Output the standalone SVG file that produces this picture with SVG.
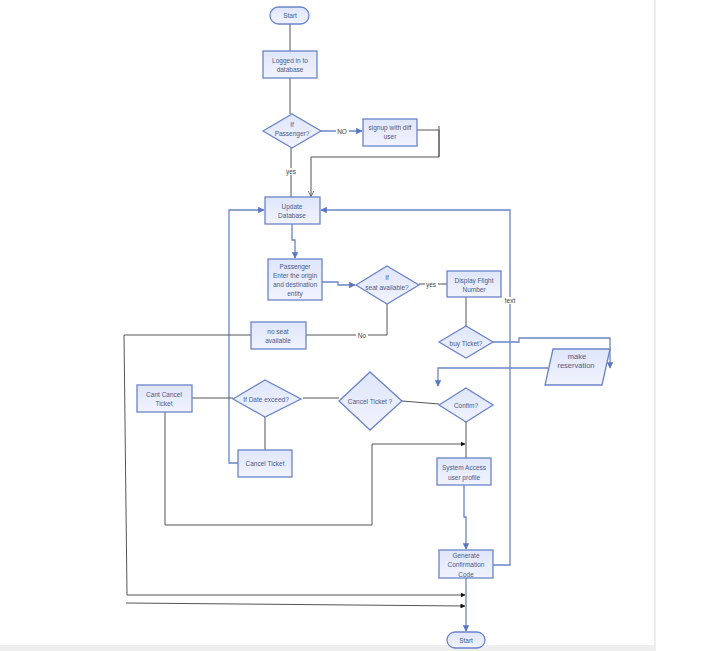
<svg xmlns="http://www.w3.org/2000/svg" width="704" height="651" viewBox="0 0 704 651">
<defs>
<linearGradient id="g" x1="0" y1="0" x2="0" y2="1"><stop offset="0" stop-color="#dfe6fb"/><stop offset="1" stop-color="#f1f3fd"/></linearGradient>
<marker id="ab" viewBox="0 0 10 10" refX="9" refY="5" markerWidth="5" markerHeight="5" orient="auto"><path d="M0,0L10,5L0,10z" fill="#5b77c4"/></marker>
<marker id="ak" viewBox="0 0 10 10" refX="9" refY="5" markerWidth="5" markerHeight="5" orient="auto"><path d="M0,0L10,5L0,10z" fill="#111"/></marker>
<marker id="ao" viewBox="0 0 10 10" refX="9" refY="5" markerWidth="6" markerHeight="6" orient="auto"><path d="M0,0L10,5L0,10" fill="none" stroke="#333"/></marker>
</defs>
<style>
.n{fill:url(#g);stroke:#6b84c9;stroke-width:1.3}
text{font-family:"Liberation Sans",Arial,sans-serif;font-size:6.5px;fill:#4a5a8a;text-anchor:middle}
.l{fill:#444}
.k{fill:none;stroke:#555;stroke-width:1}
.b{fill:none;stroke:#6b84c9;stroke-width:1.3}
</style>
<rect width="704" height="651" fill="#fff"/>
<line x1="655" y1="0" x2="655" y2="651" stroke="#ddd"/>
<rect x="0" y="645" width="655" height="6" fill="#eee"/>
<g id="connectors">
<path class="k" d="M290,24V51M290,78V114"/>
<path class="b" d="M321,131H362" marker-end="url(#ab)"/>
<path class="k" d="M417,130H439V157M439,126V157H311V196" marker-end="url(#ao)"/>
<path class="k" d="M291,148V197"/>
<path class="b" d="M0,0"/>
<path class="b" d="M238,463H229V210H264" marker-end="url(#ab)"/>
<path class="b" d="M493,565H510V210H321" marker-end="url(#ab)"/>
<path class="b" d="M292,224V240H295V258" marker-end="url(#ab)"/>
<path class="b" d="M322,282H338V285H355" marker-end="url(#ab)"/>
<path class="k" d="M419,284H447"/>
<path class="k" d="M466,297V326"/>
<path class="b" d="M493,342H519V338H610V368" marker-end="url(#ab)"/>
<path class="b" d="M548,368H438V386" marker-end="url(#ab)"/>
<path class="k" d="M387,304V335H306"/>
<path class="k" d="M251,335H124L127,595H465" marker-end="url(#ak)"/>
<path class="k" d="M126,603L465,606" marker-end="url(#ak)"/>
<path class="k" d="M402,401L439,404M339,398H303M233,398H192M265,417V450"/>
<path class="k" d="M165,412V525H372V444H465" marker-end="url(#ak)"/>
<path class="k" d="M466,422V458"/>
<path class="b" d="M464,485V517H466V549" marker-end="url(#ab)"/>
<path class="b" d="M466,578V631" marker-end="url(#ab)"/>
<rect x="336" y="128" width="13" height="7" fill="#fff"/><text class="l" x="342" y="134">NO</text>
<rect x="284" y="168" width="14" height="7" fill="#fff"/><text class="l" x="291" y="174">yes</text>
<rect x="425" y="281" width="13" height="7" fill="#fff"/><text class="l" x="431" y="287">yes</text>
<rect x="356" y="332" width="12" height="7" fill="#fff"/><text class="l" x="362" y="338">No</text>
<rect x="503" y="297" width="14" height="7" fill="#fff"/><text class="l" x="510" y="303">text</text>
</g>
<g id="start"><rect class="n" x="270" y="7" width="39" height="17" rx="8.5"/><text x="290" y="18">Start</text></g>
<g id="logged"><rect class="n" x="263" y="51" width="54" height="27"/><text x="290" y="63">Logged in to</text><text x="290" y="72">database</text></g>
<g id="passenger"><path class="n" d="M263,131L292,114L321,131L292,148Z"/><text x="292" y="127">If</text><text x="292" y="136">Passenger?</text></g>
<g id="signup"><rect class="n" x="363" y="119" width="54" height="27"/><text x="390" y="130">signup with diff</text><text x="390" y="139">user</text></g>
<g id="update"><rect class="n" x="265" y="197" width="55" height="27"/><text x="292" y="209">Update</text><text x="292" y="218">Database</text></g>
<g id="enter"><rect class="n" x="268" y="259" width="54" height="41"/><text x="295" y="269">Passenger</text><text x="295" y="278">Enter the origin</text><text x="295" y="287">and destination</text><text x="295" y="296">entity</text></g>
<g id="seat"><path class="n" d="M356,285L387,266L419,285L387,304Z"/><text x="387" y="280">If</text><text x="387" y="290">seat available?</text></g>
<g id="display"><rect class="n" x="447" y="271" width="54" height="26"/><text x="474" y="283">Display Flight</text><text x="474" y="292">Number</text></g>
<g id="buy"><path class="n" d="M439,342L466,326L493,342L466,358Z"/><text x="466" y="346">buy Ticket?</text></g>
<g id="reserve"><path class="n" d="M553,349H610L602,385H545Z"/><text x="577" y="359" style="font-size:7.5px">make</text><text x="576" y="368" style="font-size:7.5px">reservation</text></g>
<g id="noseat"><rect class="n" x="251" y="322" width="55" height="27"/><text x="278" y="334">no seat</text><text x="278" y="343">available</text></g>
<g id="cancel"><path class="n" d="M339,401L370,372L402,401L370,430Z"/><text x="370" y="404">Cancel  Ticket ?</text></g>
<g id="confirm"><path class="n" d="M439,405L466,388L493,405L466,422Z"/><text x="466" y="408">Confim?</text></g>
<g id="date"><path class="n" d="M233,399L265,380L301,399L265,417Z"/><text x="266" y="402">If Date exceed?</text></g>
<g id="cant"><rect class="n" x="137" y="385" width="55" height="27"/><text x="164" y="397">Cant Cancel</text><text x="164" y="406">Ticket</text></g>
<g id="cancelbox"><rect class="n" x="238" y="450" width="54" height="27"/><text x="265" y="466">Cancel Ticket</text></g>
<g id="system"><rect class="n" x="437" y="458" width="54" height="27"/><text x="464" y="470">System Access</text><text x="464" y="480">user profile</text></g>
<g id="generate"><rect class="n" x="439" y="550" width="54" height="28"/><text x="466" y="558">Generate</text><text x="466" y="567">Confirmation</text><text x="466" y="577">Code</text></g>
<g id="end"><rect class="n" x="447" y="632" width="38" height="16" rx="8"/><text x="466" y="643">Start</text></g>
</svg>
